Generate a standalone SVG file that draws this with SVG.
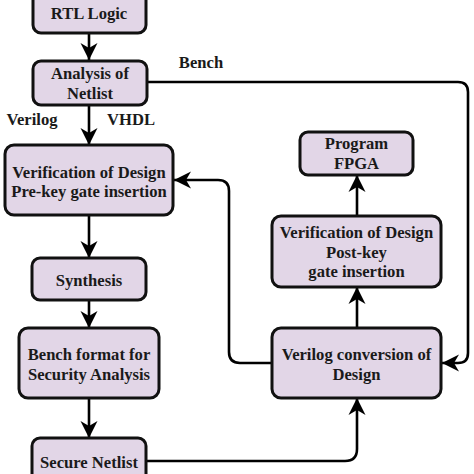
<svg xmlns="http://www.w3.org/2000/svg" width="474" height="474" viewBox="0 0 474 474">
<defs>
<marker id="arr" markerUnits="userSpaceOnUse" markerWidth="18" markerHeight="18" viewBox="0 0 18 18" refX="17" refY="9" orient="auto">
<path d="M0,0.5 L17,9 L0,17.5 L5,9 Z" fill="#000"/>
</marker>
<style>
.box{fill:#e2d6e7;stroke:#111;stroke-width:3}
.t{font-family:"Liberation Serif","Times New Roman",serif;font-weight:bold;font-size:16.6px;fill:#1a1a1a;text-anchor:middle}
.c{fill:none;stroke:#000;stroke-width:2.6}
</style>
</defs>
<rect width="474" height="474" fill="#fff"/>
<g id="connectors">
<path class="c" d="M89,33 V60" marker-end="url(#arr)"/>
<path class="c" d="M89,105 V145" marker-end="url(#arr)"/>
<path class="c" d="M89,215 V258" marker-end="url(#arr)"/>
<path class="c" d="M89,300 V328" marker-end="url(#arr)"/>
<path class="c" d="M89,398 V438" marker-end="url(#arr)"/>
<path class="c" d="M146,461 H345 Q357,461 357,449 V398" marker-end="url(#arr)"/>
<path class="c" d="M147,82 H458 Q468,82 468,92 V353 Q468,363 458,363 H442" marker-end="url(#arr)"/>
<path class="c" d="M272,363 H240 Q229,363 229,352 V191 Q229,180 218,180 H174" marker-end="url(#arr)"/>
<path class="c" d="M357,328 V287" marker-end="url(#arr)"/>
<path class="c" d="M357,216 V175" marker-end="url(#arr)"/>
</g>
<g id="rtl">
<rect class="box" x="33" y="-10" width="113" height="43" rx="8"/>
<text class="t" x="89" y="19">RTL Logic</text>
</g>
<g id="analysis">
<rect class="box" x="33" y="61" width="114" height="44" rx="8"/>
<text class="t" x="90" y="79">Analysis of</text>
<text class="t" x="90" y="99">Netlist</text>
</g>
<g id="labels">
<text class="t" x="201" y="68">Bench</text>
<text class="t" x="32" y="125">Verilog</text>
<text class="t" x="131" y="125">VHDL</text>
</g>
<g id="verif-pre">
<rect class="box" x="5" y="145" width="168" height="70" rx="9"/>
<text class="t" x="89" y="178">Verification of Design</text>
<text class="t" x="89" y="197">Pre-key gate insertion</text>
</g>
<g id="synthesis">
<rect class="box" x="32" y="258" width="114" height="42" rx="8"/>
<text class="t" x="89" y="286">Synthesis</text>
</g>
<g id="bench-format">
<rect class="box" x="19" y="328" width="140" height="70" rx="9"/>
<text class="t" x="89" y="360">Bench format for</text>
<text class="t" x="89" y="380">Security Analysis</text>
</g>
<g id="secure-netlist">
<rect class="box" x="32" y="438" width="114" height="50" rx="8"/>
<text class="t" x="89" y="468">Secure Netlist</text>
</g>
<g id="verilog-conv">
<rect class="box" x="272" y="328" width="169" height="70" rx="9"/>
<text class="t" x="356.5" y="360">Verilog conversion of</text>
<text class="t" x="356.5" y="380">Design</text>
</g>
<g id="verif-post">
<rect class="box" x="272" y="216" width="169" height="71" rx="9"/>
<text class="t" x="356.5" y="238">Verification of Design</text>
<text class="t" x="356.5" y="258">Post-key</text>
<text class="t" x="356.5" y="277">gate insertion</text>
</g>
<g id="fpga">
<rect class="box" x="300" y="132" width="113" height="43" rx="8"/>
<text class="t" x="356.5" y="149">Program</text>
<text class="t" x="356.5" y="169">FPGA</text>
</g>
</svg>
